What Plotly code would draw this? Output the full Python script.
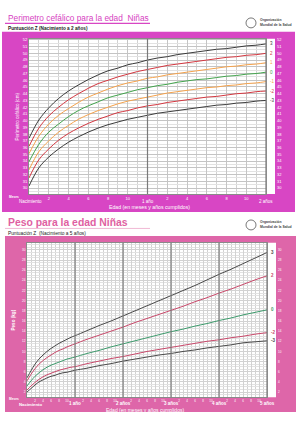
import plotly.graph_objects as go

W, H = 300, 425

# ---------------- Data: head circumference-for-age, girls (cm) ----------------
hc_months = list(range(0, 25))
hc_p3 = [37.4, 40.1, 41.9, 43.3, 44.4, 45.3, 46.1, 46.8, 47.4, 47.8, 48.3, 48.6, 49.0,
         49.3, 49.5, 49.8, 50.0, 50.2, 50.4, 50.6, 50.7, 50.9, 51.1, 51.2, 51.4]
hc_p2 = [36.2, 38.9, 40.7, 42.0, 43.1, 44.0, 44.8, 45.5, 46.0, 46.5, 46.9, 47.3, 47.6,
         47.9, 48.2, 48.4, 48.6, 48.8, 49.0, 49.2, 49.4, 49.5, 49.7, 49.8, 50.0]
hc_p1 = [35.1, 37.7, 39.5, 40.8, 41.8, 42.7, 43.5, 44.1, 44.7, 45.2, 45.6, 45.9, 46.3,
         46.5, 46.8, 47.0, 47.2, 47.4, 47.6, 47.8, 48.0, 48.1, 48.3, 48.4, 48.6]
hc_0 = [33.9, 36.5, 38.3, 39.5, 40.6, 41.5, 42.2, 42.8, 43.4, 43.8, 44.2, 44.6, 44.9,
        45.2, 45.4, 45.7, 45.9, 46.1, 46.2, 46.4, 46.6, 46.7, 46.9, 47.0, 47.2]
hc_m1 = [32.7, 35.4, 37.0, 38.3, 39.3, 40.2, 40.9, 41.5, 42.0, 42.5, 42.9, 43.2, 43.5,
         43.8, 44.1, 44.3, 44.5, 44.7, 44.9, 45.0, 45.2, 45.3, 45.5, 45.6, 45.8]
hc_m2 = [31.5, 34.2, 35.8, 37.1, 38.1, 38.9, 39.6, 40.2, 40.7, 41.2, 41.5, 41.9, 42.2,
         42.4, 42.7, 42.9, 43.1, 43.3, 43.5, 43.6, 43.8, 44.0, 44.1, 44.3, 44.4]
hc_m3 = [30.3, 33.0, 34.6, 35.8, 36.8, 37.6, 38.3, 38.9, 39.4, 39.8, 40.2, 40.5, 40.8,
         41.1, 41.3, 41.5, 41.7, 41.9, 42.1, 42.3, 42.4, 42.6, 42.7, 42.9, 43.0]
hc_labels = ["3", "2", "1", "0", "-1", "-2", "-3"]
hc_yticks = list(range(30, 53))
hc_xticks = [2, 4, 6, 8, 10, 14, 16, 18, 20, 22]
hc_xticktext = ["2", "4", "6", "8", "10", "2", "4", "6", "8", "10"]
hc_years = [12, 24]
hc_year_text = ["1 año", "2 años"]

# ---------------- Data: weight-for-age, girls (kg) ----------------
wt_months = [0, 1, 2, 3, 4, 5, 6, 7, 8, 9, 10, 11, 12, 15, 18, 21, 24, 27, 30, 33, 36,
             39, 42, 45, 48, 51, 54, 57, 60]
wt_p3 = [4.8, 6.2, 7.5, 8.5, 9.3, 10.0, 10.6, 11.1, 11.6, 12.0, 12.4, 12.8, 13.1, 14.1,
         15.1, 16.0, 17.0, 18.0, 19.0, 20.0, 21.0, 22.0, 23.0, 24.1, 25.2, 26.2, 27.3, 28.4, 29.5]
wt_p2 = [4.2, 5.5, 6.6, 7.5, 8.2, 8.8, 9.3, 9.8, 10.2, 10.5, 10.9, 11.2, 11.5, 12.4,
         13.2, 14.0, 14.8, 15.7, 16.5, 17.3, 18.1, 18.9, 19.8, 20.6, 21.5, 22.3, 23.2, 24.1, 24.9]
wt_0 = [3.2, 4.2, 5.1, 5.8, 6.4, 6.9, 7.3, 7.6, 7.9, 8.2, 8.5, 8.7, 8.9, 9.6,
        10.2, 10.9, 11.5, 12.1, 12.7, 13.3, 13.9, 14.4, 15.0, 15.5, 16.1, 16.6, 17.2, 17.7, 18.2]
wt_m2 = [2.4, 3.2, 3.9, 4.5, 5.0, 5.4, 5.7, 6.0, 6.3, 6.5, 6.7, 6.9, 7.0, 7.6,
         8.1, 8.6, 9.0, 9.5, 10.0, 10.4, 10.8, 11.2, 11.6, 12.0, 12.3, 12.7, 13.0, 13.4, 13.7]
wt_m3 = [2.0, 2.7, 3.4, 4.0, 4.4, 4.8, 5.1, 5.3, 5.6, 5.8, 5.9, 6.1, 6.3, 6.7,
         7.2, 7.6, 8.1, 8.5, 8.9, 9.3, 9.6, 10.0, 10.3, 10.7, 11.0, 11.3, 11.7, 11.9, 12.1]
wt_labels = ["3", "2", "0", "-2", "-3"]
wt_yticks = list(range(2, 31, 2))
wt_xticks = [m for m in range(2, 60, 2) if m % 12 != 0]
wt_xticktext = [str(m % 12) for m in wt_xticks]
wt_years = [12, 24, 36, 48, 60]
wt_year_text = ["1 año", "2 años", "3 años", "4 años", "5 años"]

# ---------------- Styling ----------------
FONT = "Liberation Sans, Arial, sans-serif"
MAGENTA = "#d846c4"
PINK = "#de66a9"
hc_colors = ["#3a3a3a", "#d2363f", "#f4a24c", "#42a34c", "#f4a24c", "#d2363f", "#3a3a3a"]
wt_colors = ["#4a4a4a", "#c8486a", "#3d9a6c", "#c8486a", "#4a4a4a"]


def px(x):
    return x / W


def py(y):
    return 1 - y / H


fig = go.Figure()

hc_series = [hc_p3, hc_p2, hc_p1, hc_0, hc_m1, hc_m2, hc_m3]
for ser, col in zip(hc_series, hc_colors):
    fig.add_trace(go.Scatter(x=hc_months, y=ser, mode="lines", line=dict(color=col, width=1, shape="spline"),
                             xaxis="x", yaxis="y", showlegend=False, hoverinfo="skip"))

wt_series = [wt_p3, wt_p2, wt_0, wt_m2, wt_m3]
for ser, col in zip(wt_series, wt_colors):
    fig.add_trace(go.Scatter(x=wt_months, y=ser, mode="lines", line=dict(color=col, width=1, shape="spline"),
                             xaxis="x2", yaxis="y2", showlegend=False, hoverinfo="skip"))

# invisible traces to activate right-hand axes
fig.add_trace(go.Scatter(x=[None], y=[None], xaxis="x", yaxis="y3", showlegend=False))
fig.add_trace(go.Scatter(x=[None], y=[None], xaxis="x2", yaxis="y4", showlegend=False))

TOP = dict(x0=29, x1=266, y0=37, y1=193)
BOT = dict(x0=27, x1=267, y0=242, y1=397)

tickfont = dict(family=FONT, size=4, color="#ffffff")
grid_c = "#d2d2d2"
frame_c = "#8a8a8a"

fig.update_layout(
    width=W, height=H, margin=dict(l=0, r=0, t=0, b=0),
    paper_bgcolor="white", plot_bgcolor="rgba(0,0,0,0)", showlegend=False,
    xaxis=dict(domain=[px(TOP["x0"]), px(TOP["x1"])], range=[0, 24], anchor="y",
               tickmode="array", tickvals=hc_xticks, ticktext=hc_xticktext, tickfont=tickfont,
               ticklabelstandoff=0, ticks="",
               showgrid=True, gridcolor="#c4c4c4", gridwidth=0.7,
               minor=dict(dtick=1, tick0=0, showgrid=True, gridcolor=grid_c, gridwidth=0.5),
               showline=True, mirror=True, linecolor=frame_c, linewidth=1, zeroline=False),
    yaxis=dict(domain=[py(TOP["y1"]), py(TOP["y0"])], range=[29.1, 52.15], anchor="x",
               tickmode="array", tickvals=hc_yticks, tickfont=tickfont, ticks="",
               showgrid=True, gridcolor="#c4c4c4", gridwidth=0.6,
               minor=dict(dtick=0.5, tick0=0, showgrid=True, gridcolor="#e2e2e2", gridwidth=0.5),
               showline=True, mirror=True, linecolor=frame_c, linewidth=1, zeroline=False),
    yaxis3=dict(overlaying="y", anchor="free", position=px(276), side="right",
                range=[29.1, 52.15], tickmode="array", tickvals=hc_yticks, tickfont=tickfont,
                ticks="", showgrid=False, showline=False, zeroline=False),
    xaxis2=dict(domain=[px(BOT["x0"]), px(BOT["x1"])], range=[0, 60], anchor="y2",
                tickmode="array", tickvals=wt_xticks, ticktext=wt_xticktext, tickfont=dict(family=FONT, size=3, color="#ffffff"),
                ticklabelstandoff=0, ticks="",
                showgrid=True, gridcolor=grid_c, gridwidth=0.5,
                minor=dict(dtick=1, tick0=0, showgrid=True, gridcolor=grid_c, gridwidth=0.5),
                showline=True, mirror=True, linecolor=frame_c, linewidth=1, zeroline=False),
    yaxis2=dict(domain=[py(BOT["y1"]), py(BOT["y0"])], range=[1.0, 31.4], anchor="x2",
                tickmode="array", tickvals=wt_yticks, tickfont=dict(family=FONT, size=3, color="#ffffff"), ticks="",
                showgrid=True, gridcolor=grid_c, gridwidth=0.5,
                minor=dict(dtick=0.5, tick0=0, showgrid=True, gridcolor="#e2e2e2", gridwidth=0.5),
                showline=True, mirror=True, linecolor=frame_c, linewidth=1, zeroline=False),
    yaxis4=dict(overlaying="y2", anchor="free", position=px(277), side="right",
                range=[1.0, 31.4], tickmode="array", tickvals=wt_yticks,
                tickfont=dict(family=FONT, size=3, color="#ffffff"),
                ticks="", showgrid=False, showline=False, zeroline=False),
)

shapes = []
# panels
shapes.append(dict(type="rect", xref="paper", yref="paper", x0=px(2), x1=px(295), y0=py(211), y1=py(30),
                   fillcolor=MAGENTA, line=dict(width=0), layer="below"))
shapes.append(dict(type="rect", xref="paper", yref="paper", x0=px(TOP["x0"]), x1=px(275), y0=py(193), y1=py(37),
                   fillcolor="white", line=dict(width=0), layer="below"))
shapes.append(dict(type="rect", xref="paper", yref="paper", x0=px(5), x1=px(296), y0=py(412), y1=py(235),
                   fillcolor=PINK, line=dict(width=0), layer="below"))
shapes.append(dict(type="rect", xref="paper", yref="paper", x0=px(BOT["x0"]), x1=px(276), y0=py(397), y1=py(242),
                   fillcolor="white", line=dict(width=0), layer="below"))
# title underlines
shapes.append(dict(type="line", xref="paper", yref="paper", x0=px(5), x1=px(150), y0=py(21.5), y1=py(21.5),
                   line=dict(color=MAGENTA, width=1.2)))
shapes.append(dict(type="line", xref="paper", yref="paper", x0=px(5), x1=px(150), y0=py(227.5), y1=py(227.5),
                   line=dict(color="#f0b8d4", width=1)))
# year lines
for yr in hc_years:
    shapes.append(dict(type="line", xref="x", yref="y domain", x0=yr, x1=yr, y0=0, y1=1,
                       line=dict(color="#7a7a7a", width=1.2)))
for yr in wt_years:
    shapes.append(dict(type="line", xref="x2", yref="y2 domain", x0=yr, x1=yr, y0=0, y1=1,
                       line=dict(color="#7a7a7a", width=1.2)))
# WHO logos
for cy in (21, 224):
    shapes.append(dict(type="circle", xref="paper", yref="paper", x0=px(246), x1=px(256),
                       y0=py(cy + 5), y1=py(cy - 5), line=dict(color="#555555", width=0.8)))
fig.update_layout(shapes=shapes)

ann = []


def text(x, y, s, size, color, anchor="left", bold=False, angle=0, xref="paper", yref="paper", xshift=0):
    ann.append(dict(x=x, y=y, xref=xref, yref=yref, text=("<b>%s</b>" % s) if bold else s,
                    showarrow=False, xanchor=anchor, yanchor="middle", textangle=angle, xshift=xshift,
                    font=dict(family=FONT, size=size, color=color)))


# Top chart texts
text(px(6), py(16), "Perimetro cefálico para la edad  Niñas", 8.3, "#d63ec1")
text(px(6), py(27), "Puntuación Z (Nacimiento a 2 años)", 4.7, "#222222", bold=True)
text(px(258), py(18.5), "Organización", 3.4, "#444444", bold=True)
text(px(258), py(23.5), "Mundial de la Salud", 3.4, "#444444", bold=True)
text(px(17), py(115), "Perímetro cefálico (cm)", 4.6, "#ffffff", anchor="center", angle=-90)
text(px(7), py(195.5), "Meses", 3.2, "#ffffff", bold=True)
text(0, py(200.5), "Nacimiento", 4.5, "#ffffff", anchor="center", xref="x", xshift=1)
for yr, t in zip(hc_years, hc_year_text):
    text(yr, py(200), t, 4.5, "#ffffff", anchor="center", xref="x")
text(px(149), py(206), "Edad (en meses y años cumplidos)", 5.2, "#ffffff", anchor="center")
for ser, lab, col in zip(hc_series, hc_labels, hc_colors):
    ann.append(dict(x=hc_months[-1], y=ser[-1], xref="x", yref="y", text=lab, showarrow=False,
                    xanchor="left", yanchor="middle", xshift=2,
                    font=dict(family=FONT, size=4.5, color=col)))

# Bottom chart texts
text(px(6), py(222), "Peso para la edad Niñas", 10.4, "#df5fa2", bold=True)
text(px(6), py(232.5), "Puntuación Z  (Nacimiento a 5 años)", 4.8, "#222222")
text(px(258), py(221.5), "Organización", 3.4, "#444444", bold=True)
text(px(258), py(226.5), "Mundial de la Salud", 3.4, "#444444", bold=True)
text(px(13), py(320), "Peso (kg)", 4.6, "#ffffff", anchor="center", angle=-90, bold=True)
text(px(7), py(399), "Meses", 3.2, "#ffffff", bold=True)
text(0, py(404), "Nacimiento", 4.3, "#ffffff", anchor="center", xref="x2", bold=True, xshift=4)
for yr, t in zip(wt_years, wt_year_text):
    text(yr, py(403.5), t, 4.5, "#ffffff", anchor="center", xref="x2", bold=True)
text(px(145), py(410), "Edad (en meses y años cumplidos)", 5.0, "#ffffff", anchor="center")
for ser, lab, col in zip(wt_series, wt_labels, wt_colors):
    ann.append(dict(x=wt_months[-1], y=ser[-1], xref="x2", yref="y2", text="<b>%s</b>" % lab, showarrow=False,
                    xanchor="left", yanchor="middle", xshift=2,
                    font=dict(family=FONT, size=4.5, color=col)))

fig.update_layout(annotations=ann)
fig.write_html("out.html")
